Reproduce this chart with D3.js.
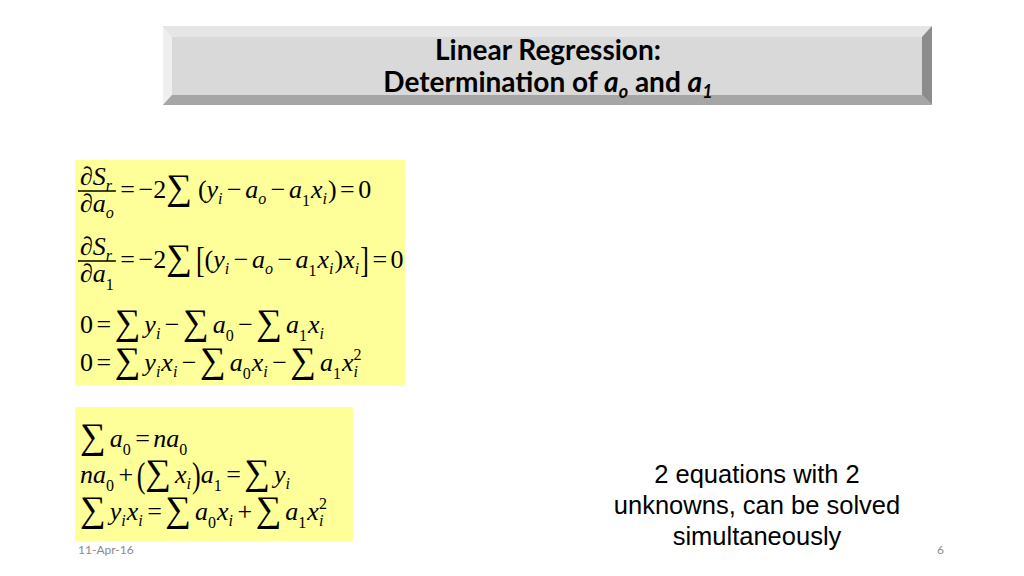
<!DOCTYPE html>
<html>
<head>
<meta charset="utf-8">
<script src="https://cdn.jsdelivr.net/npm/d3@7"></script>
<style>
  body { margin: 0; background: #fff; }
  svg { display: block; }
  .math text { font-family: "Liberation Serif", "Times New Roman", serif; fill: #000; }
</style>
</head>
<body>
<div class="slide"></div>
<script>
var svgWidth = 1024;
var svgHeight = 576;

// slide content
var titleLines = ["Linear Regression:", "Determination of "];
var titleSubs = [["a", "o"], ["a", "1"]];
var noteLines = ["2 equations with 2", "unknowns, can be solved", "simultaneously"];
var footerDate = "11-Apr-16";
var pageNumber = "6";

// equation tokens: [text, style]
// r roman, i italic, s italic subscript, d digit subscript, p superscript (no advance), o operator, S sum, B tall bracket
var dSr = [["∂", "r"], ["S", "i"], ["r", "s"]];
var dAo = [["∂", "r"], ["a", "i"], ["o", "s"]];
var dA1 = [["∂", "r"], ["a", "i"], ["1", "d"]];
var eq1 = [["=", "o"], ["−2", "r"], ["∑", "S"], ["(", "q"], ["y", "i"], ["i", "s"], ["−", "o"], ["a", "i"], ["o", "s"],
  ["−", "o"], ["a", "i"], ["1", "d"], ["x", "i"], ["i", "s"], [")", "r"], ["=", "o"], ["0", "r"]];
var eq2 = [["=", "o"], ["−2", "r"], ["∑", "S"], ["[", "B"], ["(", "r"], ["y", "i"], ["i", "s"], ["−", "o"], ["a", "i"], ["o", "s"],
  ["−", "o"], ["a", "i"], ["1", "d"], ["x", "i"], ["i", "s"], [")", "r"], ["x", "i"], ["i", "s"], ["]", "B"], ["=", "o"], ["0", "r"]];
var eq3 = [["0", "r"], ["=", "o"], ["∑", "S"], ["y", "i"], ["i", "s"], ["−", "o"], ["∑", "S"], ["a", "i"], ["0", "d"],
  ["−", "o"], ["∑", "S"], ["a", "i"], ["1", "d"], ["x", "i"], ["i", "s"]];
var eq4 = [["0", "r"], ["=", "o"], ["∑", "S"], ["y", "i"], ["i", "s"], ["x", "i"], ["i", "s"], ["−", "o"], ["∑", "S"], ["a", "i"], ["0", "d"],
  ["x", "i"], ["i", "s"], ["−", "o"], ["∑", "S"], ["a", "i"], ["1", "d"], ["x", "i"], ["2", "p"], ["i", "s"]];
var eq5 = [["∑", "S"], ["a", "i"], ["0", "d"], ["=", "o"], ["n", "i"], ["a", "i"], ["0", "d"]];
var eq6 = [["n", "i"], ["a", "i"], ["0", "d"], ["+", "o"], ["(", "B"], ["∑", "S"], ["x", "i"], ["i", "s"], [")", "B"],
  ["a", "i"], ["1", "d"], ["=", "o"], ["∑", "S"], ["y", "i"], ["i", "s"]];
var eq7 = [["∑", "S"], ["y", "i"], ["i", "s"], ["x", "i"], ["i", "s"], ["=", "o"], ["∑", "S"], ["a", "i"], ["0", "d"], ["x", "i"], ["i", "s"],
  ["+", "o"], ["∑", "S"], ["a", "i"], ["1", "d"], ["x", "i"], ["2", "p"], ["i", "s"]];

var mathSize = 26;
var styles = {
  r: { size: mathSize, dy: 0 },
  q: { size: mathSize, dy: 0, before: 2 },
  i: { size: mathSize, dy: 0, italic: true },
  s: { size: 16, dy: 6, italic: true, after: 1 },
  d: { size: 16, dy: 8, after: 1 },
  p: { size: 16, dy: -11, noAdvance: true },
  o: { size: mathSize, dy: 0, before: 3.5, after: 3.5 },
  S: { size: 36, dy: 1, after: 4 },
  B: { size: mathSize, dy: 4, stretch: 1.35 }
};

var svg = d3.select(".slide")
  .append("svg")
  .attr("width", svgWidth)
  .attr("height", svgHeight);

// title box with bevel
var tb = { x0: 163, y0: 26, x1: 932, y1: 105, l: 9, t: 11, r: 10, b: 10 };
var bevel = svg.append("g");
bevel.append("rect")
  .attr("x", tb.x0).attr("y", tb.y0)
  .attr("width", tb.x1 - tb.x0).attr("height", tb.y1 - tb.y0)
  .attr("fill", "#d9d9d9");
var faces = [
  { pts: [[tb.x0, tb.y0], [tb.x1, tb.y0], [tb.x1 - tb.r, tb.y0 + tb.t], [tb.x0 + tb.l, tb.y0 + tb.t]], fill: "#e6e6e6" },
  { pts: [[tb.x0, tb.y0], [tb.x0 + tb.l, tb.y0 + tb.t], [tb.x0 + tb.l, tb.y1 - tb.b], [tb.x0, tb.y1]], fill: "#efefef" },
  { pts: [[tb.x1, tb.y0], [tb.x1, tb.y1], [tb.x1 - tb.r, tb.y1 - tb.b], [tb.x1 - tb.r, tb.y0 + tb.t]], fill: "#8c8c8c" },
  { pts: [[tb.x0, tb.y1], [tb.x0 + tb.l, tb.y1 - tb.b], [tb.x1 - tb.r, tb.y1 - tb.b], [tb.x1, tb.y1]], fill: "#a6a6a6" }
];
bevel.selectAll("polygon")
  .data(faces)
  .enter()
  .append("polygon")
  .attr("points", d => d.pts.map(p => p.join(",")).join(" "))
  .attr("fill", d => d.fill);

var titleX = 548;
var titleG = svg.append("g")
  .style("font-family", "Lato, 'Open Sans', sans-serif")
  .style("font-weight", "bold")
  .style("font-size", "28px");

titleLines.forEach(function(line, k) {
  var t = titleG.append("text")
    .attr("x", titleX)
    .attr("y", k === 0 ? 60 : 92)
    .attr("text-anchor", "middle");
  t.append("tspan").text(line);
  if (k === 1) {
    t.append("tspan").style("font-style", "italic").text(titleSubs[0][0]);
    t.append("tspan").style("font-style", "italic").style("font-size", "18px").attr("dy", 6).text(titleSubs[0][1]);
    t.append("tspan").attr("dy", -6).text(" and ");
    t.append("tspan").style("font-style", "italic").text(titleSubs[1][0]);
    t.append("tspan").style("font-style", "italic").style("font-size", "18px").attr("dy", 6).text(titleSubs[1][1]);
  }
});

// yellow equation boxes
var boxes = [
  { x: 75, y: 160, w: 330, h: 225 },
  { x: 75, y: 407, w: 278, h: 134 }
];
svg.selectAll("rect.eqbox")
  .data(boxes)
  .enter()
  .append("rect")
  .attr("class", "eqbox")
  .attr("x", d => d.x).attr("y", d => d.y)
  .attr("width", d => d.w).attr("height", d => d.h)
  .attr("fill", "#ffff99");

var math = svg.append("g").attr("class", "math");

// lays out a token row, measuring each glyph run; returns end x
function layout(tokens, x0, base) {
  var x = x0;
  tokens.forEach(function(tk) {
    var st = styles[tk[1]];
    x += st.before || 0;
    var t = math.append("text")
      .style("font-size", st.size + "px")
      .style("font-style", st.italic ? "italic" : "normal")
      .text(tk[0]);
    if (st.stretch) {
      t.attr("transform", "translate(" + x + "," + (base + st.dy) + ") scale(1," + st.stretch + ")");
    } else {
      t.attr("x", x).attr("y", base + st.dy);
    }
    var w = t.node().getComputedTextLength();
    if (!st.noAdvance) x += w + (st.after || 0);
  });
  return x;
}

function fraction(num, den, x0, bar) {
  var e1 = layout(num, x0 + 2, bar - 6);
  var e2 = layout(den, x0 + 2, bar + 21);
  var xe = Math.max(e1, e2) + 1;
  math.append("line")
    .attr("x1", x0).attr("x2", xe)
    .attr("y1", bar).attr("y2", bar)
    .attr("stroke", "#000").attr("stroke-width", 1.3);
  return xe;
}

var f1 = fraction(dSr, dAo, 78, 191);
layout(eq1, f1 + 1, 198);
var f2 = fraction(dSr, dA1, 78, 261);
layout(eq2, f2 + 1, 268);
layout(eq3, 80, 333);
layout(eq4, 80, 371);
layout(eq5, 80, 447);
layout(eq6, 80, 483);
layout(eq7, 80, 520);

// note on the right
var note = svg.append("g")
  .style("font-family", "'Liberation Sans', Arial, sans-serif")
  .style("font-size", "25.5px");
note.selectAll("text")
  .data(noteLines)
  .enter()
  .append("text")
  .attr("x", 757)
  .attr("y", (d, i) => 483 + i * 31)
  .attr("text-anchor", "middle")
  .attr("fill", "#000")
  .text(d => d);

// footer
var footer = svg.append("g")
  .style("font-family", "Lato, 'Open Sans', sans-serif")
  .style("font-size", "12px")
  .attr("fill", "#8a8a8a");
footer.append("text").attr("x", 78).attr("y", 554).text(footerDate);
footer.append("text").attr("x", 944).attr("y", 554).attr("text-anchor", "end").text(pageNumber);
</script>
</body>
</html>
